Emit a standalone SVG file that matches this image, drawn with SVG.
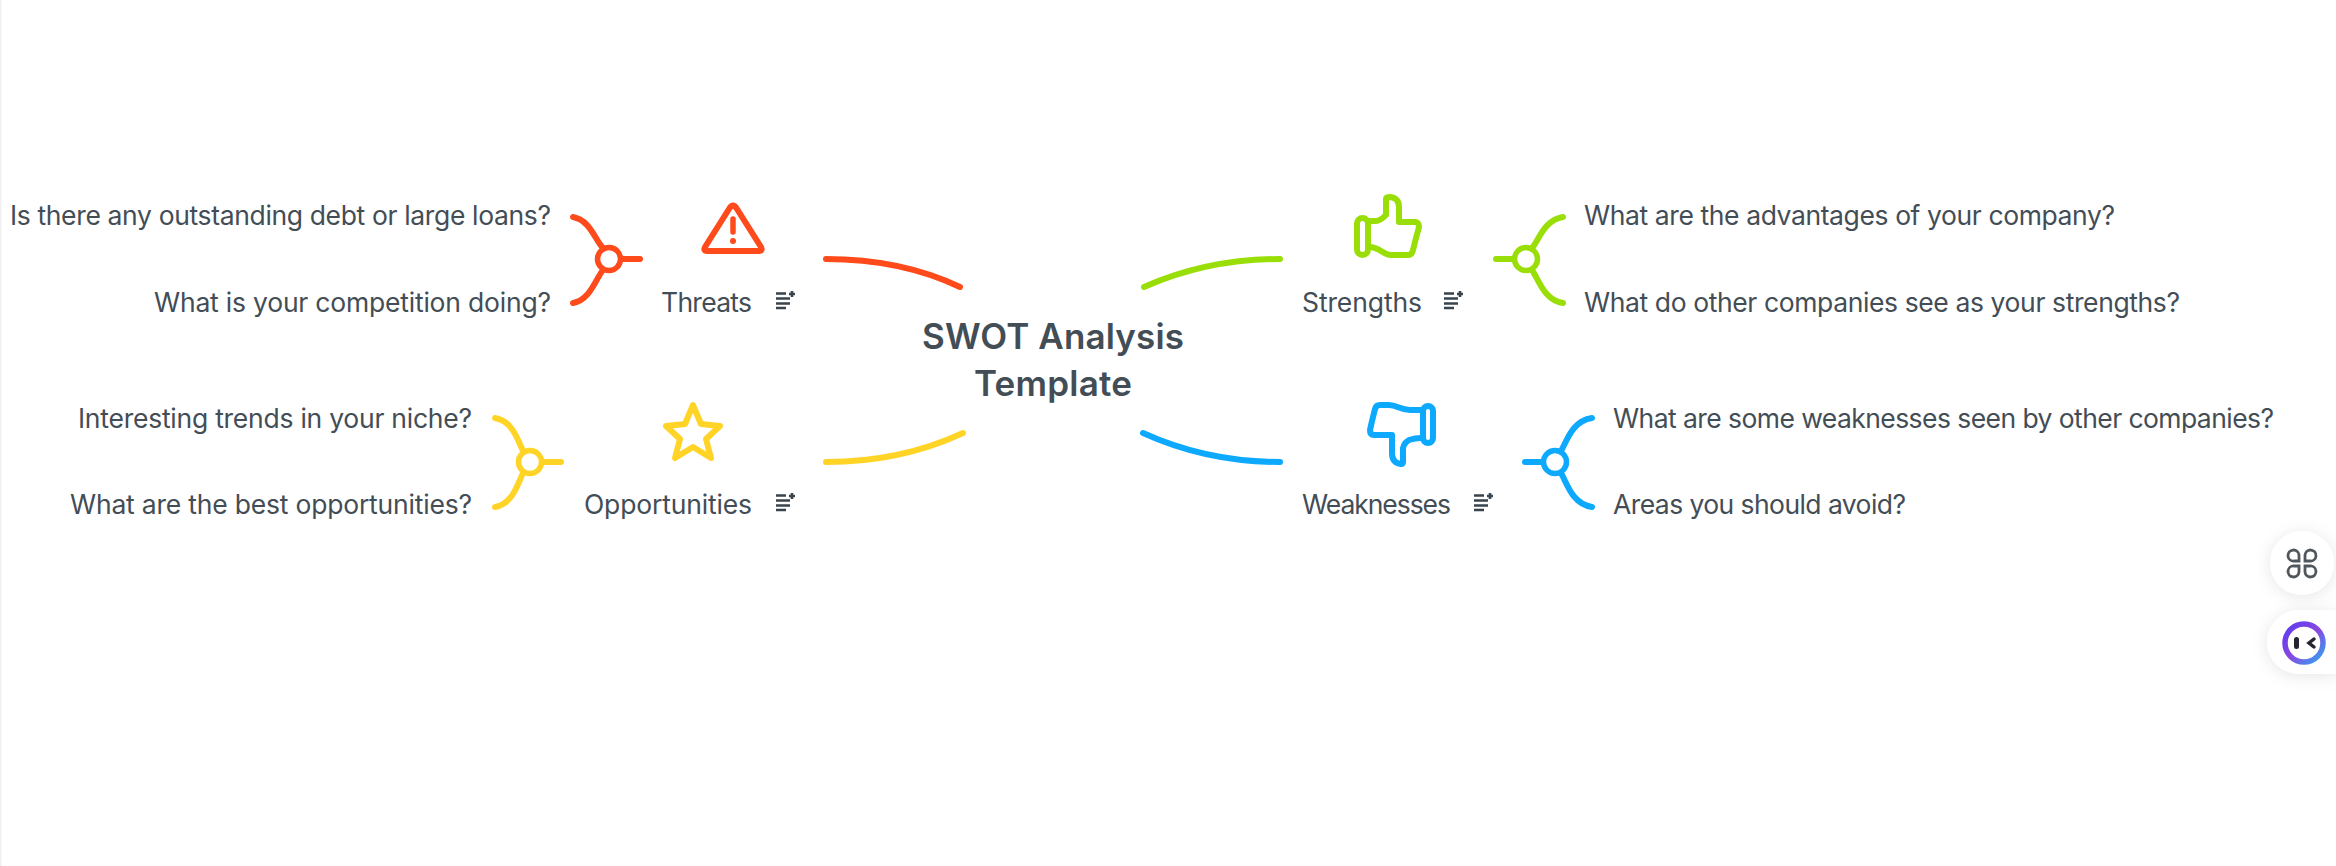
<svg xmlns="http://www.w3.org/2000/svg" width="2336" height="866" viewBox="0 0 2336 866">
<defs>
<style>
text{font-family:"Inter","Noto Sans","Liberation Sans",sans-serif;font-size:26.500px;fill:#434d56}
.title{font-size:35px;font-weight:600;text-anchor:middle}
.l{fill:none;stroke-width:6;stroke-linecap:round;stroke-linejoin:round}
.ic{fill:none;stroke-width:6;stroke-linecap:round;stroke-linejoin:round}
.note{fill:none;stroke:#3a444d;stroke-width:2.600}
.red{stroke:#ff4a1c}.grn{stroke:#9ade07}.yel{stroke:#ffd426}.blu{stroke:#0ca9ff}
.dot{fill:#fff;stroke-width:5.500}
</style>
<g id="noteIcon"><path class="note" d="M0 2.500H10M0 7.500H14M0 12.500H14M0 17H10M13 3H19M16 0V6"/></g>
<filter id="sh" x="-50%" y="-50%" width="200%" height="200%"><feDropShadow dx="0" dy="2" stdDeviation="8" flood-color="#000" flood-opacity="0.1"/></filter>
<linearGradient id="ring" x1="0" y1="0" x2="1" y2="1"><stop offset="0" stop-color="#5b3df0"/><stop offset="0.5" stop-color="#8a46e0"/><stop offset="1" stop-color="#2fa8f0"/></linearGradient>
</defs>
<rect width="2336" height="866" fill="#fff"/>
<rect x="0" y="0" width="1.500" height="866" fill="#efefef"/>
<g id="connectors">
<path class="l red" d="M826 259C875 259 920 268 960 287"/>
<path class="l yel" d="M826 462C875 462 920 453 963 433"/>
<path class="l grn" d="M1280 259C1232 259 1187 268 1144 287"/>
<path class="l blu" d="M1280 462C1232 462 1187 453 1143 433"/>
<path class="l red" d="M573 217C590 220 595 240 603 248M603 270C595 280 590 300 573 303M621 259H640"/>
<path class="l yel" d="M495 418C513 421 518 441 523 451M523 473C518 483 513 504 495 507M541 462H561"/>
<path class="l grn" d="M1563 217C1544 220 1539 240 1532 248M1532 270C1539 280 1544 300 1563 303M1514 259H1496"/>
<path class="l blu" d="M1592 418C1572 421 1567 441 1561 451M1561 473C1567 483 1572 504 1592 507M1543 462H1525"/>
<circle class="dot red" cx="609" cy="259" r="11.500"/>
<circle class="dot yel" cx="530" cy="462" r="11.500"/>
<circle class="dot grn" cx="1526" cy="259" r="11.500"/>
<circle class="dot blu" cx="1555" cy="462" r="11.500"/>
</g>
<g id="center"><text class="title" x="1053" y="349" textLength="262">SWOT Analysis</text><text class="title" x="1053" y="396" textLength="158">Template</text></g>
<g id="threats">
<path class="ic red" d="M733 205.500Q735 205.500 737 209L761 247Q763 251 759 251H707Q703 251 705 247L729 209Q731 205.500 733 205.500Z"/>
<path d="M733 219V232" stroke="#ff4a1c" stroke-width="5.500" stroke-linecap="round"/><circle cx="733" cy="241" r="3" fill="#ff4a1c"/>
<text x="661" y="312" textLength="91">Threats</text><use href="#noteIcon" x="776" y="291"/>
</g>
<g id="t1"><text x="551" y="225" text-anchor="end" textLength="541">Is there any outstanding debt or large loans?</text></g>
<g id="t2"><text x="551" y="312" text-anchor="end" textLength="397">What is your competition doing?</text></g>
<g id="opportunities">
<path class="ic yel" d="M693 405L701 424L720 426L706 439L711 458L693 447L675 458L680 439L666 426L685 424Z"/>
<text x="584" y="514" textLength="168">Opportunities</text><use href="#noteIcon" x="776" y="493"/>
</g>
<g id="o1"><text x="472" y="428" text-anchor="end" textLength="394">Interesting trends in your niche?</text></g>
<g id="o2"><text x="472" y="514" text-anchor="end" textLength="402">What are the best opportunities?</text></g>
<g id="strengths">
<rect class="ic grn" x="1357" y="218" width="11" height="37" rx="5.500"/>
<path class="ic grn" d="M1369 221H1376Q1380 221 1386 215V199Q1386 197 1390 197Q1399 198 1399 207V222H1416Q1419 223 1419 227L1416 238L1413 250Q1412 255 1408 255H1391C1383 255 1380 247 1369 247"/>
<text x="1302" y="312" textLength="120">Strengths</text><use href="#noteIcon" x="1444" y="291"/>
</g>
<g id="s1"><text x="1584" y="225" textLength="531">What are the advantages of your company?</text></g>
<g id="s2"><text x="1584" y="312" textLength="596">What do other companies see as your strengths?</text></g>
<g id="weaknesses">
<rect class="ic blu" x="1423" y="406" width="10" height="37" rx="5"/>
<path class="ic blu" d="M1421 410H1410C1400 410 1397 405 1389 405H1380Q1376 405 1375 409L1372 421L1370 430Q1370 435 1374 435H1392V453Q1392 463 1401 464Q1403 464 1403 462V448Q1404 443 1409 440Q1415 438 1421 438"/>
<text x="1302" y="514" textLength="149">Weaknesses</text><use href="#noteIcon" x="1474" y="493"/>
</g>
<g id="w1"><text x="1613" y="428" textLength="661">What are some weaknesses seen by other companies?</text></g>
<g id="w2"><text x="1613" y="514" textLength="293">Areas you should avoid?</text></g>
<g id="widgets">
<circle cx="2302" cy="563" r="32" fill="#fff" filter="url(#sh)"/>
<g fill="none" stroke="#4f565c" stroke-width="2.800">
<path d="M2299 561H2294A5.500 5.500 0 1 1 2299 555Z"/>
<path d="M2305 561H2310A5.500 5.500 0 1 0 2305 555Z"/>
<path d="M2299 566H2294A5.500 5.500 0 1 0 2299 572Z"/>
<path d="M2305 566H2310A5.500 5.500 0 1 1 2305 572Z"/>
</g>
<path d="M2336 610H2299A32 32 0 0 0 2299 674H2336Z" fill="#fff" filter="url(#sh)"/>
<circle cx="2304" cy="643" r="19" fill="#fff" stroke="url(#ring)" stroke-width="5.500"/>
<rect x="2294" y="637" width="5" height="12" rx="2.500" fill="#24252f"/>
<path d="M2314 639L2309 643L2314 647" fill="none" stroke="#24252f" stroke-width="3.500" stroke-linecap="round"/>
</g>
</svg>
